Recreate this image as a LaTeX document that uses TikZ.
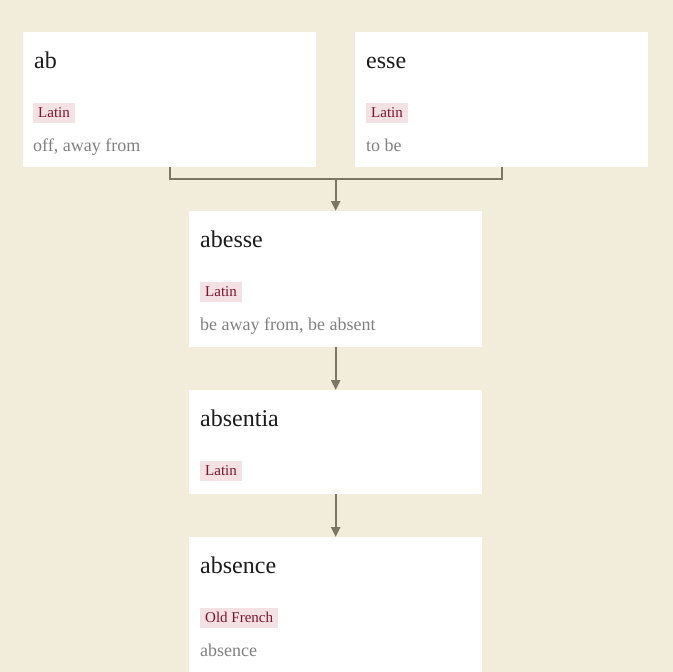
\documentclass[tikz,border=0pt]{standalone}
\usepackage{fontspec}
\setmainfont{Liberation Serif}
\usetikzlibrary{calc,arrows.meta}
\definecolor{bgc}{HTML}{F2ECDB}
\definecolor{linec}{HTML}{7D7665}
\definecolor{tagbg}{HTML}{F3E1E4}
\definecolor{tagfg}{HTML}{7B1431}
\definecolor{titlec}{HTML}{1C1C1C}
\definecolor{glossc}{HTML}{808080}
\tikzset{
  box/.style={fill=white, draw=none, inner sep=0pt, anchor=north west, minimum width=293pt},
  wtitle/.style={anchor=base west, inner sep=0pt, text=titlec, font=\fontsize{24}{28}\selectfont},
  wtag/.style={anchor=base west, inner xsep=5pt, inner ysep=0pt, text height=14pt, text depth=6pt, fill=tagbg, text=tagfg, font=\fontsize{15}{18}\selectfont},
  wgloss/.style={anchor=base west, inner sep=0pt, text=glossc, font=\fontsize{18}{22}\selectfont},
  conn/.style={draw=linec, line width=2.2pt},
  arrowc/.style={conn, -{Triangle[width=9pt,length=10pt]}}
}
\begin{document}
\begin{tikzpicture}[x=1pt,y=-1pt]
\useasboundingbox (0,0) rectangle (672,672);
\fill[bgc] (-5,-5) rectangle (680,680);
% boxes
\node[box, minimum height=135pt] (ab) at (23,32) {};
\node[box, minimum height=135pt] (esse) at (355,32) {};
\node[box, minimum height=136pt] (abesse) at (189,211) {};
\node[box, minimum height=104pt] (absentia) at (189,390) {};
\node[box, minimum height=140pt] (absence) at (189,537) {};
% ab
\node[wtitle] (abT) at ($(ab.north west)+(11,36)$) {ab};
\node[wtag] (abL) at ($(ab.north west)+(10,85)$) {Latin};
\node[wgloss] (abG) at ($(ab.north west)+(10,119)$) {off, away from};
% esse
\node[wtitle] (esseT) at ($(esse.north west)+(11,36)$) {esse};
\node[wtag] (esseL) at ($(esse.north west)+(11,85)$) {Latin};
\node[wgloss] (esseG) at ($(esse.north west)+(11,119)$) {to be};
% abesse
\node[wtitle] (abesseT) at ($(abesse.north west)+(11,36)$) {abesse};
\node[wtag] (abesseL) at ($(abesse.north west)+(11,85)$) {Latin};
\node[wgloss] (abesseG) at ($(abesse.north west)+(11,119)$) {be away from, be absent};
% absentia
\node[wtitle] (absentiaT) at ($(absentia.north west)+(11,36)$) {absentia};
\node[wtag] (absentiaL) at ($(absentia.north west)+(11,85)$) {Latin};
% absence
\node[wtitle] (absenceT) at ($(absence.north west)+(11,36)$) {absence};
\node[wtag] (absenceL) at ($(absence.north west)+(11,85)$) {Old French};
\node[wgloss] (absenceG) at ($(absence.north west)+(11,119)$) {absence};
% connectors
\coordinate (join) at ($(abesse.north)+(0,-32)$);
\draw[conn] (ab.south) |- (join) -| (esse.south);
\draw[arrowc] (join) -- (abesse.north);
\draw[arrowc] (abesse.south) -- (absentia.north);
\draw[arrowc] (absentia.south) -- (absence.north);
\end{tikzpicture}
\end{document}
